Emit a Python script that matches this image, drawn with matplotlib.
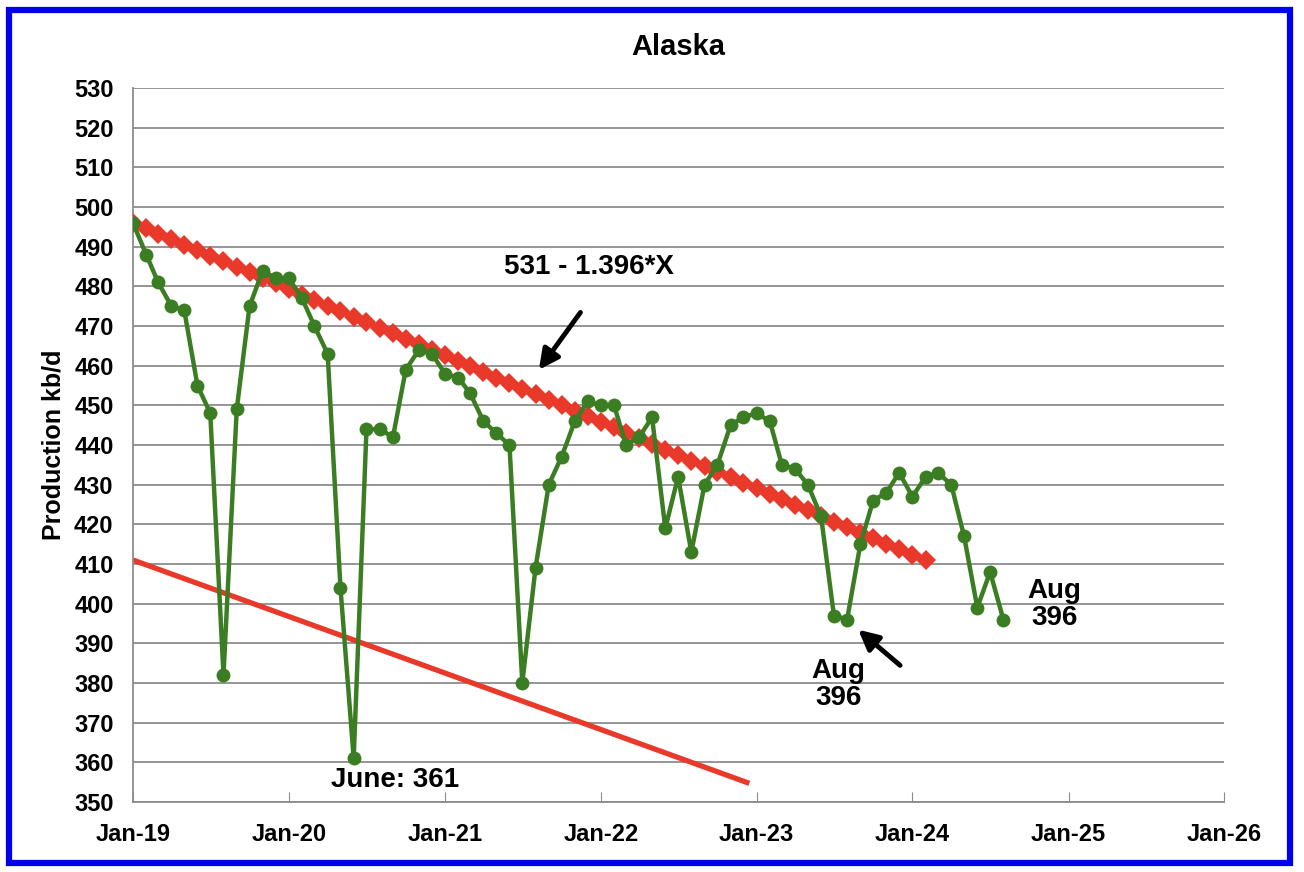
import numpy as np
import pandas as pd
import matplotlib
matplotlib.use("Agg")
import matplotlib.pyplot as plt
import matplotlib.dates as mdates
from matplotlib.patches import Rectangle

plt.rcParams['font.family'] = ['Liberation Sans', 'DejaVu Sans']
plt.rcParams['font.weight'] = 'bold'

# monthly Alaska production, Jan-19 .. Aug-24 (kb/d)
months = pd.date_range("2019-01-01", "2024-08-01", freq="MS")
production = [
    496, 488, 481, 475, 474, 455, 448, 382, 449, 475, 484, 482,
    482, 477, 470, 463, 404, 361, 444, 444, 442, 459, 464, 463,
    458, 457, 453, 446, 443, 440, 380, 409, 430, 437, 446, 451,
    450, 450, 440, 442, 447, 419, 432, 413, 430, 435, 445, 447,
    448, 446, 435, 434, 430, 422, 397, 396, 415, 426, 428, 433,
    427, 432, 433, 430, 417, 399, 408, 396,
]

# fitted trend 531 - 1.396*X, X = 25 at Jan-19, through Feb-24
trend_months = pd.date_range("2019-01-01", "2024-02-01", freq="MS")
trend_x = np.arange(25, 25 + len(trend_months))
trend_vals = 531 - 1.396 * trend_x

# second straight red line
line2_dates = [pd.Timestamp("2019-01-01"), pd.Timestamp("2022-12-15")]
line2_vals = [411, 354.7]

green = "#3A7D22"
red = "#E8392A"

fig = plt.figure(figsize=(13.04, 8.72), dpi=100)
ax = fig.add_axes([0.102, 0.0803, 0.837, 0.8187])

ax.plot(line2_dates, line2_vals, color=red, lw=3.8, solid_capstyle="butt", zorder=2)
ax.plot(trend_months, trend_vals, color=red, lw=4, marker="D", markersize=10,
        markeredgewidth=0, zorder=3)
ax.plot(months, production, color=green, lw=3.2, marker="o", markersize=10,
        markeredgewidth=0, zorder=4)

ax.set_ylim(350, 530)
ax.set_yticks(np.arange(350, 531, 10))
ax.set_xlim(pd.Timestamp("2019-01-01"), pd.Timestamp("2026-01-01"))
ax.xaxis.set_major_locator(mdates.YearLocator())
ax.xaxis.set_major_formatter(mdates.DateFormatter("%b-%y"))

ax.grid(axis="y", color="#8C8C8C", lw=1.3)
ax.set_axisbelow(True)
for s in ["top", "right"]:
    ax.spines[s].set_visible(False)
for s in ["left", "bottom"]:
    ax.spines[s].set_color("#8C8C8C")
    ax.spines[s].set_linewidth(1.3)
ax.tick_params(axis="x", direction="in", length=7, color="#8C8C8C", labelsize=17, pad=15)
ax.tick_params(axis="y", length=0, labelsize=17, pad=14)
for lbl in ax.get_xticklabels() + ax.get_yticklabels():
    lbl.set_fontweight("bold")

ax.set_ylabel("Production kb/d", fontsize=18, fontweight="bold", labelpad=6)
ax.set_title("Alaska", fontsize=21, fontweight="bold", pad=24)

ax.text(pd.Timestamp("2021-12-05"), 485, "531 - 1.396*X", fontsize=20,
        fontweight="bold", ha="center", va="center")
ax.annotate("", xy=(pd.Timestamp("2021-08-05"), 458.4),
            xytext=(pd.Timestamp("2021-11-18"), 474),
            arrowprops=dict(arrowstyle="-|>", color="black", lw=3.5,
                            mutation_scale=30))
ax.text(pd.Timestamp("2020-09-06"), 355.6, "June: 361", fontsize=20,
        fontweight="bold", ha="center", va="center")
ax.text(pd.Timestamp("2023-07-12"), 379.5, "Aug\n396", fontsize=20,
        fontweight="bold", ha="center", va="center", linespacing=1.05)
ax.annotate("", xy=(pd.Timestamp("2023-08-22"), 393.9),
            xytext=(pd.Timestamp("2023-12-08"), 384),
            arrowprops=dict(arrowstyle="-|>", color="black", lw=3.5,
                            mutation_scale=30))
ax.text(pd.Timestamp("2024-11-28"), 399.7, "Aug\n396", fontsize=20,
        fontweight="bold", ha="center", va="center", linespacing=1.05)

fig.patches.append(Rectangle((9 / 1304, 9 / 872), 1281 / 1304, 853 / 872,
                             transform=fig.transFigure, fill=False,
                             edgecolor="#0000EE", lw=4.5))

fig.savefig("out.png", dpi=100)
